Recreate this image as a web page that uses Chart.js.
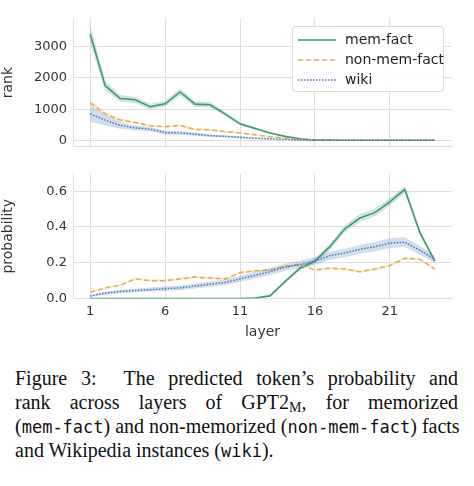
<!DOCTYPE html>
<html>
<head>
<meta charset="utf-8">
<script src="https://cdn.jsdelivr.net/npm/chart.js@4.4.0/dist/chart.umd.min.js"></script>
<style>
  body { margin: 0; background: #fff; width: 474px; height: 486px; position: relative; overflow: hidden; }
  canvas { position: absolute; left: 0; }
  #legend { position: absolute; left: 292px; top: 26px; width: 152px; height: 66px; border: 1px solid #ddd; border-radius: 3px;
    background: rgba(255,255,255,0.9); font: 14px "DejaVu Sans"; color: #222; box-sizing: border-box; padding: 2px 0 0 5px; white-space: nowrap; }
  #legend div { height: 20px; line-height: 20px; }
  #legend svg { vertical-align: middle; margin-right: 9px; }
  #caption { position: absolute; left: 15px; top: 366px; width: 443px; font: 20px/24px "Liberation Serif", serif; color: #111; }
  #caption div { text-align: justify; text-align-last: justify; height: 24px; white-space: nowrap; }
  #caption div.last { text-align-last: left; }
  #caption code { font-family: "DejaVu Sans Mono", monospace; font-size: 17px; }
  #caption sub { font-size: 14px; line-height: 0; vertical-align: -3px; }
</style>
</head>
<body>
<canvas id="rankChart"></canvas>
<canvas id="probChart"></canvas>
<div id="legend">
  <div><svg width="38" height="8"><line x1="0" y1="4" x2="38" y2="4" stroke="#3f9a73" stroke-width="1.6"/></svg>mem-fact</div>
  <div><svg width="38" height="8"><line x1="0" y1="4" x2="38" y2="4" stroke="#e0b04a" stroke-width="1.6" stroke-dasharray="5,3"/></svg>non-mem-fact</div>
  <div><svg width="38" height="8"><line x1="0" y1="4" x2="38" y2="4" stroke="#4a76b8" stroke-width="1.6" stroke-dasharray="1.5,1.5"/></svg>wiki</div>
</div>
<div id="caption">
  <div>Figure 3:&nbsp; The predicted token’s probability and</div>
  <div>rank across layers of GPT2<sub>M</sub>, for memorized</div>
  <div>(<code>mem-fact</code>) and non-memorized (<code>non-mem-fact</code>) facts</div>
  <div class="last">and Wikipedia instances (<code>wiki</code>).</div>
</div>
<script>
const layers = [1,2,3,4,5,6,7,8,9,10,11,12,13,14,15,16,17,18,19,20,21,22,23,24];
const xTicks = [1, 6, 11, 16, 21];

const rankMem = [3400,1750,1340,1300,1080,1170,1550,1160,1140,850,530,380,240,130,50,10,8,6,5,5,5,5,5,5];
const rankMemErr = [300,150,110,100,90,90,120,90,90,70,50,40,30,20,10,5,3,3,3,3,3,3,3,3];
const rankNon = [1200,850,650,570,470,440,480,350,340,280,240,180,120,70,30,20,15,15,15,15,15,15,15,10];
const rankNonErr = [90,60,50,40,35,35,35,30,30,25,20,15,12,10,6,4,3,3,3,3,3,3,3,3];
const rankWiki = [850,650,480,400,360,250,240,200,150,130,100,70,50,30,15,10,5,5,5,5,5,5,5,5];
const rankWikiErr = [260,170,110,80,70,60,55,50,40,35,30,20,15,10,6,4,3,3,3,3,3,3,3,3];

const probMem = [0,0,0,0,0,0,0,0,0,0,0,0.003,0.015,0.095,0.17,0.21,0.29,0.39,0.45,0.48,0.54,0.61,0.37,0.21];
const probMemErr = [0,0,0,0,0,0,0,0,0,0,0,0.002,0.004,0.008,0.012,0.015,0.018,0.02,0.022,0.022,0.022,0.02,0.015,0.012];
const probNon = [0.035,0.06,0.075,0.11,0.1,0.1,0.11,0.12,0.115,0.11,0.145,0.155,0.16,0.18,0.19,0.16,0.17,0.165,0.15,0.165,0.185,0.225,0.22,0.165];
const probNonErr = [0.004,0.005,0.005,0.006,0.006,0.006,0.006,0.006,0.006,0.006,0.006,0.006,0.006,0.006,0.006,0.006,0.006,0.006,0.006,0.006,0.006,0.007,0.007,0.006];
const probWiki = [0.015,0.03,0.04,0.045,0.05,0.055,0.06,0.07,0.08,0.09,0.11,0.13,0.15,0.175,0.19,0.21,0.24,0.255,0.275,0.29,0.31,0.315,0.27,0.22];
const probWikiErr = [0.005,0.008,0.01,0.01,0.012,0.012,0.013,0.014,0.015,0.016,0.017,0.018,0.019,0.02,0.021,0.022,0.023,0.024,0.025,0.026,0.027,0.027,0.025,0.02];

const GREEN = '#3f9a73', GOLD = '#e0b04a', BLUE = '#4a76b8';
const pts = (vals) => vals.map((v, i) => ({ x: layers[i], y: v }));
const band = (vals, err, sign) => pts(vals.map((v, i) => Math.max(0, v + sign * err[i])));

function seriesSets(mem, memErr, non, nonErr, wiki, wikiErr) {
  const out = [];
  const add = (vals, err, color, fillColor, dash, width) => {
    out.push({ data: band(vals, err, -1), borderWidth: 0, pointRadius: 0, fill: false });
    out.push({ data: band(vals, err, 1), borderWidth: 0, pointRadius: 0, fill: '-1', backgroundColor: fillColor });
    out.push({ data: pts(vals), borderColor: color, borderWidth: width, borderDash: dash, pointRadius: 0, fill: false, tension: 0 });
  };
  add(wiki, wikiErr, BLUE, 'rgba(74,118,184,0.25)', [1.5, 1.5], 1.5);
  add(non, nonErr, GOLD, 'rgba(224,176,74,0.25)', [5, 3], 1.5);
  add(mem, memErr, GREEN, 'rgba(63,154,115,0.25)', [], 1.6);
  return out;
}

const tickFont = { family: 'DejaVu Sans', size: 13 };
const gridCol = '#dedede';

function xScale(showTicks) {
  return {
    type: 'linear', min: -0.15, max: 25.15,
    afterBuildTicks: s => { s.ticks = xTicks.map(v => ({ value: v })); },
    afterFit: s => { if (!showTicks) s.height = 0; },
    grid: { color: gridCol, drawTicks: false },
    border: { color: gridCol },
    ticks: { display: showTicks, font: tickFont, color: '#333', padding: 5 },
    title: { display: showTicks, text: 'layer', font: { family: 'DejaVu Sans', size: 14 }, color: '#333', padding: 0 }
  };
}

function makeChart(id, top, height, pad, datasets, yOpts) {
  const c = document.getElementById(id);
  c.style.top = top + 'px';
  c.width = 474; c.height = height;
  c.style.width = '474px'; c.style.height = height + 'px';
  new Chart(c, {
    type: 'line',
    data: { datasets },
    options: {
      responsive: false, animation: false,
      layout: { padding: pad },
      plugins: { legend: { display: false }, tooltip: { enabled: false } },
      scales: { x: xScale(id === 'probChart'), y: yOpts }
    }
  });
}

makeChart('rankChart', 0, 160, { top: 19, right: 22, left: 0, bottom: 10 },
  seriesSets(rankMem, rankMemErr, rankNon, rankNonErr, rankWiki, rankWikiErr),
  {
    min: -185, max: 3885,
    afterBuildTicks: s => { s.ticks = [0, 1000, 2000, 3000].map(v => ({ value: v })); },
    afterFit: s => { s.width = 73; },
    grid: { color: gridCol, drawTicks: false }, border: { color: gridCol },
    ticks: { font: tickFont, color: '#333', padding: 6, callback: v => String(v) },
    title: { display: true, text: 'rank', font: { family: 'DejaVu Sans', size: 14 }, color: '#333', padding: 0 }
  });

makeChart('probChart', 160, 185, { top: 10, right: 22, left: 0, bottom: 4 },
  seriesSets(probMem, probMemErr, probNon, probNonErr, probWiki, probWikiErr),
  {
    min: 0, max: 0.697,
    afterBuildTicks: s => { s.ticks = [0, 0.2, 0.4, 0.6].map(v => ({ value: v })); },
    afterFit: s => { s.width = 73; },
    grid: { color: gridCol, drawTicks: false }, border: { color: gridCol },
    ticks: { font: tickFont, color: '#333', padding: 6, callback: v => v.toFixed(1) },
    title: { display: true, text: 'probability', font: { family: 'DejaVu Sans', size: 14 }, color: '#333', padding: 0 }
  });
</script>
</body>
</html>
